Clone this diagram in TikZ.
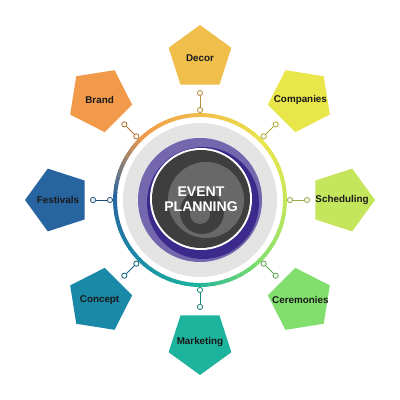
\documentclass[tikz,border=0pt]{standalone}
\usepackage{fontspec}
\setmainfont{Liberation Sans}
\usetikzlibrary{shapes.geometric}
\definecolor{cDecor}{HTML}{EFBE4B}
\definecolor{cCompanies}{HTML}{E9E64B}
\definecolor{cScheduling}{HTML}{C4E65C}
\definecolor{cCeremonies}{HTML}{82DE6D}
\definecolor{cMarketing}{HTML}{1EB39C}
\definecolor{cConcept}{HTML}{1A89A8}
\definecolor{cFestivals}{HTML}{2865A0}
\definecolor{cBrand}{HTML}{F09A4A}
\definecolor{cShade}{HTML}{E4E4E4}
\definecolor{cPurple}{HTML}{7467AD}
\definecolor{cPurpleDark}{HTML}{3B2A8C}
\definecolor{cDisk}{HTML}{3E3E3E}
\definecolor{cSwirl}{HTML}{686868}
\tikzset{
  petal/.style={regular polygon, regular polygon sides=5, minimum size=1.65cm,
    inner sep=0pt, outer sep=0pt},
  tag/.style={text=black!90, inner sep=0pt, font=\bfseries\fontsize{7}{8}\selectfont},
  knob/.style={circle, draw, fill=white, line width=0.6pt, inner sep=0pt,
    minimum size=0.13cm},
  title/.style={align=center, text=white, font=\bfseries\fontsize{10}{10.6}\selectfont}
}
\begin{document}
\begin{tikzpicture}[x=0.025cm,y=0.025cm]
  \useasboundingbox[fill=white] (-200,-200) rectangle (200,200);
  % centre disc
  \fill[cShade] (0,0) circle (77);
  \fill[cPurple] (0,0) circle (62);
  \fill[cPurpleDark] (3,-3) circle (56);
  \fill[white] (1,1) circle (51);
  \fill[cDisk] (1,1) circle (49);
  \fill[cSwirl] (6,0) circle (38);
  \fill[cDisk] (2,-12) circle (22);
  \fill[cSwirl] (0,-14) circle (10);
  \node[title] (event) at (1,1) {EVENT\\PLANNING};
  % coloured ring
  \foreach \a/\ca/\cb in {90/cDecor/cCompanies, 45/cCompanies/cScheduling,
      0/cScheduling/cCeremonies, -45/cCeremonies/cMarketing,
      -90/cMarketing/cConcept, -135/cConcept/cFestivals,
      -180/cFestivals/cBrand, -225/cBrand/cDecor}
    \foreach \k in {0,...,8} {
      \pgfmathtruncatemacro\p{\k*100/9}
      \draw[line width=2.8pt, \cb!\p!\ca] (\a-\k*5:85)
        arc[start angle=\a-\k*5, end angle=\a-\k*5-5.6, radius=85];
    }
  % pentagons and connectors
  \foreach \a/\c/\t [count=\i] in {90/cDecor/Decor, 45/cCompanies/Companies,
      0/cScheduling/Scheduling, -45/cCeremonies/Ceremonies,
      -90/cMarketing/Marketing, -135/cConcept/Concept,
      180/cFestivals/Festivals, 135/cBrand/Brand} {
    \node[petal, fill=\c, shape border rotate=\a-90] (p\i) at (\a:142) {};
    \node[tag] (t\i) at (p\i) {\t};
    \node[knob, draw=\c!75!black] (out\i) at (\a:107) {};
    \node[knob, draw=\c!75!black] (in\i) at (\a:90) {};
    \draw[line width=0.6pt, \c!75!black] (out\i) -- (in\i);
  }
\end{tikzpicture}
\end{document}
